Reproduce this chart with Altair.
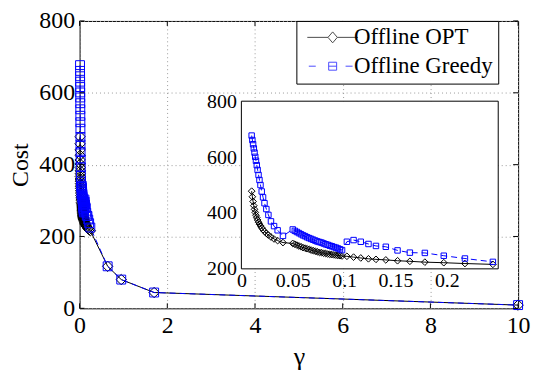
import altair as alt
import pandas as pd

# ---------------- data ----------------
series = ["Offline OPT", "Offline Greedy"]

gamma_a = [0.0100, 0.0107, 0.0114, 0.0121, 0.0128, 0.0135, 0.0142, 0.0150, 0.0158, 0.0167,
           0.0176, 0.0186, 0.0198, 0.0211, 0.0225, 0.0243, 0.0263, 0.0288, 0.0318, 0.0353, 0.0405]
opt_a = [478, 458, 441, 426, 413, 402, 392, 383, 375, 367,
         360, 354, 347, 340, 334, 327, 321, 314, 307, 301, 294]
greedy_a = [677, 661, 646, 631, 616, 601, 587, 571, 554, 536,
            518, 500, 477, 456, 435, 414, 393, 370, 353, 338, 318]

gamma_b = [0.050, 0.052, 0.054, 0.056, 0.058, 0.060, 0.062, 0.064, 0.066, 0.068,
           0.070, 0.072, 0.074, 0.076, 0.078, 0.080, 0.082, 0.084, 0.086, 0.088,
           0.090, 0.092, 0.094, 0.096, 0.098]
opt_b = [291, 288, 285, 282, 279, 276, 274, 272, 270, 267,
         265, 263, 261, 259, 258, 256, 255, 253, 252, 251,
         250, 249, 248, 247, 246]
greedy_b = [341, 336, 332, 328, 324, 320, 317, 313, 310, 307,
            304, 301, 298, 296, 294, 291, 288, 286, 283, 281,
            278, 276, 273, 270, 267]

gamma_c = [0.1027, 0.1092, 0.1162, 0.1237, 0.1310, 0.1406, 0.1520, 0.1640, 0.1786, 0.1970, 0.2176, 0.2448]
opt_c = [245, 242, 239, 236, 234, 232, 229, 227, 224, 222, 219, 216]
greedy_c = [297, 303, 297, 289, 282, 279, 266, 258, 257, 247, 237, 225]

gamma_d = [0.64, 0.95, 1.70, 10.0]
opt_d = [117, 80, 44, 9]
greedy_d = [117, 80, 44, 9]

x_ticks = [0, 2, 4, 6, 8, 10]
y_ticks = [0, 200, 400, 600, 800]
x_domain = [0, 10]
y_domain = [0, 800]
inset_x_domain = [0, 0.25]
inset_y_domain = [200, 800]
inset_x_ticks = [0, 0.05, 0.1, 0.15, 0.2]
inset_y_ticks = [200, 400, 600, 800]

gamma = gamma_a + gamma_b + gamma_c + gamma_d
opt = opt_a + opt_b + opt_c + opt_d
greedy = greedy_a + greedy_b + greedy_c + greedy_d
n = len(gamma)

df = pd.DataFrame({
    "gamma": gamma + gamma,
    "cost": opt + greedy,
    "series": [series[0]] * n + [series[1]] * n,
})

# ---------------- styling ----------------
FONT = "Liberation Serif, Times New Roman, Times, serif"
BLUE = "#0000ff"
W, H = 441, 289
TICK = 5

# inset placement (pixels inside the main plot area)
IN_LEFT, IN_RIGHT = 162.7, 421
IN_TOP, IN_BOTTOM = 80.7, 249.3

path_opt = "M-5.1,0L-0.94,0M0.94,0L5.1,0M0,-1.1L0.94,0L0,1.1L-0.94,0Z"
path_greedy = "M-4.8,0L-3.4,0M2.6,0L4.0,0M-0.8,-0.8L0.8,-0.8L0.8,0.8L-0.8,0.8ZM-0.8,0L0.8,0"

base = alt.Chart(df)

x_main = alt.X(
    "gamma:Q",
    scale=alt.Scale(domain=x_domain, nice=False, zero=False),
    axis=alt.Axis(values=x_ticks, title="γ", grid=True, gridDash=[1, 3], gridColor="#9a9a9a",
                  domain=False, ticks=False, labelPadding=5, titlePadding=6,
                  labelFont=FONT, titleFont=FONT, labelFontSize=24, titleFontSize=26,
                  labelColor="black", titleColor="black", titleFontWeight="normal",
                  labelFlush=False, labelOverlap=False),
)
y_main = alt.Y(
    "cost:Q",
    scale=alt.Scale(domain=y_domain, nice=False, zero=False),
    axis=alt.Axis(values=y_ticks, title="Cost", grid=True, gridDash=[1, 3], gridColor="#9a9a9a",
                  domain=False, ticks=False, labelPadding=5, titlePadding=6,
                  labelFont=FONT, titleFont=FONT, labelFontSize=24, titleFontSize=24,
                  labelColor="black", titleColor="black", titleFontWeight="normal",
                  labelFlush=False, labelOverlap=False),
)

is_opt = alt.datum.series == series[0]
is_greedy = alt.datum.series == series[1]

opt_line = base.transform_filter(is_opt).mark_line(color="black", strokeWidth=1).encode(x=x_main, y=y_main)
greedy_line = base.transform_filter(is_greedy).mark_line(
    color=BLUE, strokeWidth=1, strokeDash=[6, 4]).encode(x="gamma:Q", y="cost:Q")
opt_pts = base.transform_filter(is_opt).mark_point(
    shape="diamond", color="black", filled=False, size=110, strokeWidth=1, opacity=1
).encode(x="gamma:Q", y="cost:Q")
greedy_pts = base.transform_filter(is_greedy).mark_point(
    shape="square", color=BLUE, filled=False, size=80, strokeWidth=1, opacity=1
).encode(x="gamma:Q", y="cost:Q")

leg = alt.Legend(
    title=None, orient="none", legendX=218, legendY=0,
    symbolSize=100, symbolStrokeWidth=1, symbolOffset=20, labelOffset=10,
    labelFont=FONT, labelFontSize=23, labelColor="black", labelLimit=0,
    padding=5, rowPadding=5, strokeColor="black", fillColor="white",
)
legend_layer = base.transform_filter("false").mark_point(filled=False, strokeWidth=1).encode(
    x="gamma:Q", y="cost:Q",
    color=alt.Color("series:N", scale=alt.Scale(domain=series, range=["black", BLUE]), legend=leg),
    shape=alt.Shape("series:N", scale=alt.Scale(domain=series, range=[path_opt, path_greedy]), legend=leg),
)

xt = pd.DataFrame({"gamma": x_ticks})
yt = pd.DataFrame({"cost": y_ticks})
tick_b = alt.Chart(xt).mark_rule(color="black", strokeWidth=1).encode(
    x="gamma:Q", y=alt.value(H), y2=alt.value(H - TICK))
tick_t = alt.Chart(xt).mark_rule(color="black", strokeWidth=1).encode(
    x="gamma:Q", y=alt.value(0), y2=alt.value(TICK))
tick_l = alt.Chart(yt).mark_rule(color="black", strokeWidth=1).encode(
    y="cost:Q", x=alt.value(0), x2=alt.value(TICK))
tick_r = alt.Chart(yt).mark_rule(color="black", strokeWidth=1).encode(
    y="cost:Q", x=alt.value(W), x2=alt.value(W - TICK))

main = alt.layer(opt_line, greedy_line, opt_pts, greedy_pts, legend_layer,
                 tick_b, tick_t, tick_l, tick_r)

# ---------------- inset ----------------
x_in = alt.X(
    "gamma:Q",
    scale=alt.Scale(domain=inset_x_domain, range=[IN_LEFT, IN_RIGHT], nice=False, zero=False),
    axis=alt.Axis(orient="bottom", offset=-(H - IN_BOTTOM), values=inset_x_ticks, format="~g",
                  title=None, grid=False, domain=False, ticks=False, labelPadding=2,
                  labelFont=FONT, labelFontSize=20, labelColor="black",
                  labelFlush=False, labelOverlap=False),
)
y_in = alt.Y(
    "cost:Q",
    scale=alt.Scale(domain=inset_y_domain, range=[IN_BOTTOM, IN_TOP], nice=False, zero=False),
    axis=alt.Axis(orient="left", offset=-IN_LEFT, values=inset_y_ticks,
                  title=None, grid=False, domain=False, ticks=False, labelPadding=5,
                  labelFont=FONT, labelFontSize=20, labelColor="black",
                  labelFlush=False, labelOverlap=False),
)

box_df = pd.DataFrame({
    "gamma": [inset_x_domain[0]], "gamma2": [inset_x_domain[1]],
    "cost": [inset_y_domain[0]], "cost2": [inset_y_domain[1]],
})
in_box = alt.Chart(box_df).mark_rect(fill="white", stroke="black", strokeWidth=1).encode(
    x=x_in, x2="gamma2:Q", y=y_in, y2="cost2:Q")

in_base = base.transform_filter(alt.datum.gamma <= inset_x_domain[1])
in_opt_line = in_base.transform_filter(is_opt).mark_line(color="black", strokeWidth=1).encode(
    x="gamma:Q", y="cost:Q")
in_greedy_line = in_base.transform_filter(is_greedy).mark_line(
    color=BLUE, strokeWidth=1, strokeDash=[6, 4]).encode(x="gamma:Q", y="cost:Q")
in_opt_pts = in_base.transform_filter(is_opt).mark_point(
    shape="diamond", color="black", filled=False, size=45, strokeWidth=1, opacity=1
).encode(x="gamma:Q", y="cost:Q")
in_greedy_pts = in_base.transform_filter(is_greedy).mark_point(
    shape="square", color=BLUE, filled=False, size=30, strokeWidth=1, opacity=1
).encode(x="gamma:Q", y="cost:Q")

inset = alt.layer(in_box, in_opt_line, in_greedy_line, in_opt_pts, in_greedy_pts)

chart = alt.layer(main, inset).resolve_scale(
    x="independent", y="independent"
).properties(
    width=W, height=H,
    autosize=alt.AutoSizeParams(type="none"),
    padding={"left": 72, "top": 12, "right": 20, "bottom": 62},
    background="white",
).configure(
    font=FONT
).configure_axis(
    labelFont=FONT, titleFont=FONT
).configure_legend(
    labelFont=FONT
).configure_view(stroke="black", strokeWidth=1)

chart.save("out.html", embed_options={"renderer": "svg", "actions": False})
